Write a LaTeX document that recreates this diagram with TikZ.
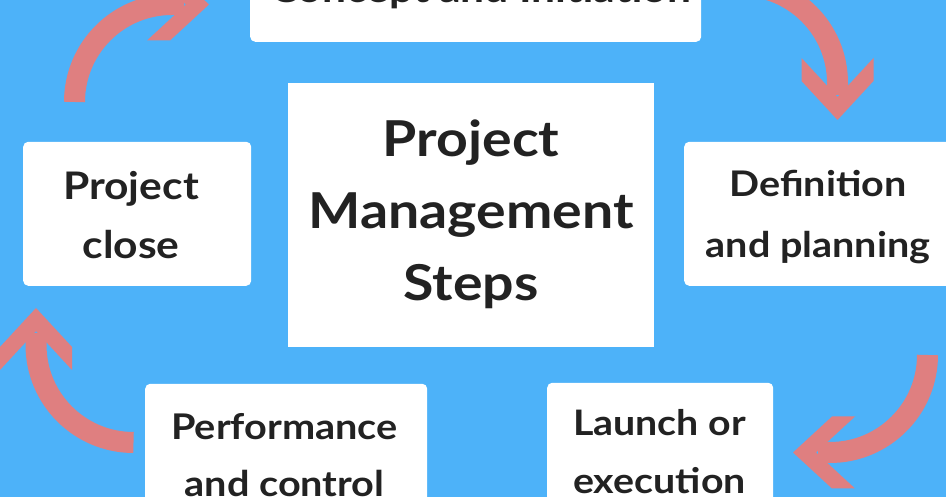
\documentclass[tikz,border=0pt]{standalone}
\usepackage{fontspec}
\setmainfont{Lato}[FakeStretch=1.12]
\definecolor{bgblue}{HTML}{4DB2F9}
\definecolor{arrowpink}{HTML}{DF7F80}
\definecolor{txtgray}{HTML}{222222}
\begin{document}
\begin{tikzpicture}[x=1pt,y=1pt,
  box/.style={fill=white, draw=none, rounded corners=5pt, inner sep=0pt, anchor=south west},
  bigbox/.style={fill=white, draw=none, inner sep=0pt, anchor=south west},
  lbl/.style={text=txtgray, inner sep=0pt, anchor=base},
  shaft/.style={draw=arrowpink, line width=21pt, line cap=butt},
  ahead/.pic={\fill[arrowpink] (0,0) -- (-39,36) -- (-62,36) -- (-23,0) -- (-62,-36) -- (-39,-36) -- cycle;}
]
\fill[bgblue] (0,0) rectangle (946,497);
\useasboundingbox (0,0) rectangle (946,497);
\clip (0,0) rectangle (946,497);

% boxes
\node[box, minimum width=451pt, minimum height=143pt] (concept) at (250,455) {};
\node[bigbox, minimum width=366pt, minimum height=264pt] (title) at (288,150) {};
\node[box, minimum width=268pt, minimum height=144pt] (define) at (684,211) {};
\node[box, minimum width=228pt, minimum height=144pt] (close) at (23,211) {};
\node[box, minimum width=282pt, minimum height=150pt] (perform) at (145,-37) {};
\node[box, minimum width=226pt, minimum height=150pt] (launch) at (547,-36) {};

% texts
\node[lbl, font=\bfseries\fontsize{38}{44}\selectfont] (t1) at (480.5,494) {Concept and Initiation};
\node[lbl, font=\bfseries\fontsize{49.5}{55}\selectfont] (m1) at (471,340) {Project};
\node[lbl, font=\bfseries\fontsize{49.5}{55}\selectfont] (m2) at (471,268) {Management};
\node[lbl, font=\bfseries\fontsize{49.5}{55}\selectfont] (m3) at (471,196) {Steps};
\node[lbl, font=\bfseries\fontsize{35.3}{40}\selectfont] (d1) at (818,300) {Definition};
\node[lbl, font=\bfseries\fontsize{35.3}{40}\selectfont] (d2) at (818,239) {and planning};
\node[lbl, font=\bfseries\fontsize{38}{46}\selectfont] (c1) at (131,297) {Project};
\node[lbl, font=\bfseries\fontsize{38}{46}\selectfont] (c2) at (131,238) {close};
\node[lbl, font=\bfseries\fontsize{35.4}{45}\selectfont] (p1) at (284.5,57) {Performance};
\node[lbl, font=\bfseries\fontsize{35.4}{45}\selectfont] (p2) at (284.5,0) {and control};
\node[lbl, font=\bfseries\fontsize{35.1}{44}\selectfont] (l1) at (659.5,61) {Launch or};
\node[lbl, font=\bfseries\fontsize{35.1}{44}\selectfont] (l2) at (659.5,3) {execution};

% arrows
\coordinate (a1s) at (74.5,395);   \coordinate (a1e) at (184,492.5);  \coordinate (a1t) at (209,492.5);
\coordinate (a2s) at (740,511.5);  \coordinate (a2e) at (837.5,402);  \coordinate (a2t) at (837.5,377);
\coordinate (a3s) at (133.5,54.5); \coordinate (a3e) at (36,164);     \coordinate (a3t) at (36,189);
\coordinate (a4s) at (927.5,142);  \coordinate (a4e) at (818,44.5);   \coordinate (a4t) at (793,44.5);

\draw[shaft] (a1s) arc[start angle=180, end angle=90, radius=97.5pt] -- (a1e);
\pic at (a1t) {ahead};
\draw[shaft] (a2s) arc[start angle=90, end angle=0, radius=97.5pt] -- (a2e);
\pic[rotate=-90] at (a2t) {ahead};
\draw[shaft] (a3s) arc[start angle=-90, end angle=-180, radius=97.5pt] -- (a3e);
\pic[rotate=90] at (a3t) {ahead};
\draw[shaft] (a4s) arc[start angle=0, end angle=-90, radius=97.5pt] -- (a4e);
\pic[rotate=180] at (a4t) {ahead};
\end{tikzpicture}
\end{document}
